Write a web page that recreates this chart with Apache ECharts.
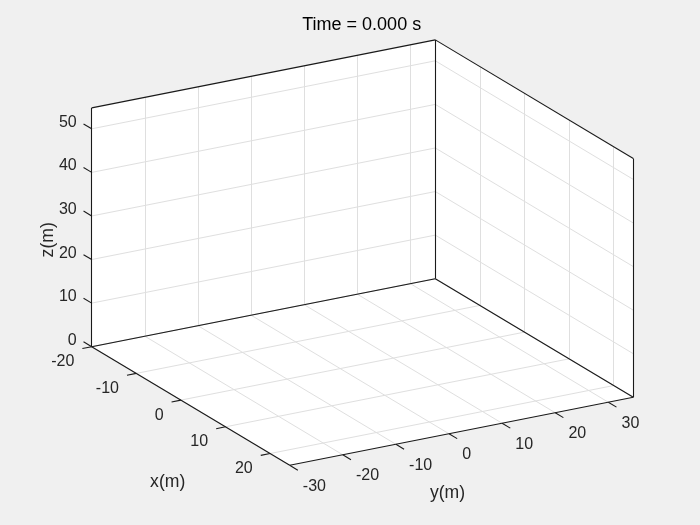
<!DOCTYPE html>
<html><head><meta charset="utf-8">
<script src="https://cdn.jsdelivr.net/npm/echarts@6/dist/echarts.min.js"></script>
<style>html,body{margin:0;padding:0;background:#f0f0f0}#c{width:700px;height:525px}</style>
</head><body><div id="c"></div>
<script>
// ---- data ----
const xTicks = [-20, -10, 0, 10, 20];
const yTicks = [-30, -20, -10, 0, 10, 20, 30];
const zTicks = [0, 10, 20, 30, 40, 50];
const xLim = [-20, 24.4];
const yLim = [-30, 34.7];
const zLim = [0, 54.8];
const axisNames = ['x(m)', 'y(m)', 'z(m)'];
const titleText = 'Time = 0.000 s';

// ---- view (orthographic projection of the axis box onto the page) ----
const VIEW = { o: [91.7, 346.7], ex: [198, 118.6], ey: [343.6, -68], ez: [0, -238.8] };
function proj(x, y, z) {
  const fx = (x - xLim[0]) / (xLim[1] - xLim[0]);
  const fy = (y - yLim[0]) / (yLim[1] - yLim[0]);
  const fz = (z - zLim[0]) / (zLim[1] - zLim[0]);
  return [VIEW.o[0] + fx * VIEW.ex[0] + fy * VIEW.ey[0] + fz * VIEW.ez[0],
          VIEW.o[1] + fx * VIEW.ex[1] + fy * VIEW.ey[1] + fz * VIEW.ez[1]];
}
function unit(v) { const n = Math.hypot(v[0], v[1]); return [v[0] / n, v[1] / n]; }
const x0 = xLim[0], x1 = xLim[1], y0 = yLim[0], y1 = yLim[1], z0 = zLim[0], z1 = zLim[1];

// grid lines on the back planes
const gridSegs = [];
xTicks.forEach(x => { gridSegs.push([proj(x, y0, z0), proj(x, y1, z0)]); gridSegs.push([proj(x, y1, z0), proj(x, y1, z1)]); });
yTicks.forEach(y => { gridSegs.push([proj(x0, y, z0), proj(x1, y, z0)]); gridSegs.push([proj(x0, y, z0), proj(x0, y, z1)]); });
zTicks.forEach(z => { gridSegs.push([proj(x0, y0, z), proj(x0, y1, z)]); gridSegs.push([proj(x0, y1, z), proj(x1, y1, z)]); });

// box edges
const boxSegs = [
  [proj(x0, y0, z0), proj(x1, y0, z0)], [proj(x1, y0, z0), proj(x1, y1, z0)],
  [proj(x0, y0, z0), proj(x0, y1, z0)], [proj(x0, y1, z0), proj(x1, y1, z0)],
  [proj(x0, y0, z0), proj(x0, y0, z1)], [proj(x0, y1, z0), proj(x0, y1, z1)], [proj(x1, y1, z0), proj(x1, y1, z1)],
  [proj(x0, y0, z1), proj(x0, y1, z1)], [proj(x0, y1, z1), proj(x1, y1, z1)]
];
const hull = [proj(x0, y0, z0), proj(x1, y0, z0), proj(x1, y1, z0), proj(x1, y1, z1), proj(x0, y1, z1), proj(x0, y0, z1)];

// ticks and tick labels
const TL = 9.5;
const dX = unit(VIEW.ey).map(v => -v), dY = unit(VIEW.ex), dZ = unit(VIEW.ex).map(v => -v);
const tickSegs = [];
const labels = [];
const FONT = '16px "Liberation Sans", Arial, sans-serif';
const LFONT = '17.6px "Liberation Sans", Arial, sans-serif';
xTicks.forEach(x => {
  const p = proj(x, y0, z0), e = [p[0] + TL * dX[0], p[1] + TL * dX[1]];
  tickSegs.push([p, e]);
  labels.push({ pos: [e[0] - 8, e[1] + 13.3], text: String(x), align: 'right', rot: 0, font: FONT });
});
yTicks.forEach(y => {
  const p = proj(x1, y, z0), e = [p[0] + TL * dY[0], p[1] + TL * dY[1]];
  tickSegs.push([p, e]);
  labels.push({ pos: [e[0] + 5, e[1] + 16], text: String(y), align: 'left', rot: 0, font: FONT });
});
zTicks.forEach(z => {
  const p = proj(x0, y0, z), e = [p[0] + TL * dZ[0], p[1] + TL * dZ[1]];
  tickSegs.push([p, e]);
  labels.push({ pos: [e[0] - 6.8, e[1] - 1.5], text: String(z), align: 'right', rot: 0, font: FONT });
});
const mx = proj((x0 + x1) / 2, y0, z0), my = proj(x1, (y0 + y1) / 2, z0), mz = proj(x0, y0, (z0 + z1) / 2);
labels.push({ pos: [mx[0] - 23, mx[1] + 76], text: axisNames[0], align: 'center', rot: 0, font: LFONT });
labels.push({ pos: [my[0] - 14, my[1] + 62], text: axisNames[1], align: 'center', rot: 0, font: LFONT });
labels.push({ pos: [mz[0] - 44, mz[1] + 12.5], text: axisNames[2], align: 'center', rot: Math.PI / 2, font: LFONT });
labels.push({ pos: [361.7, 25], text: titleText, align: 'center', rot: 0, font: '18px "Liberation Sans", Arial, sans-serif', color: '#000' });

const toLines = segs => segs.map(s => ({ coords: s }));

const chart = echarts.init(document.getElementById('c'), null, { renderer: 'canvas' });
chart.setOption({
  backgroundColor: '#f0f0f0',
  animation: false,
  grid: { left: 0, right: 0, top: 0, bottom: 0, containLabel: false },
  xAxis: { type: 'value', min: 0, max: 700, show: false },
  yAxis: { type: 'value', min: 0, max: 525, inverse: true, show: false },
  series: [
    {
      type: 'custom', silent: true,
      data: [[0, 0]],
      renderItem: (params, api) => ({
        type: 'polygon',
        shape: { points: hull.map(p => api.coord(p)) },
        style: { fill: '#ffffff', stroke: null }
      })
    },
    { type: 'lines', coordinateSystem: 'cartesian2d', silent: true, data: toLines(gridSegs),
      lineStyle: { color: '#dfdfdf', width: 1, opacity: 1, curveness: 0 } },
    { type: 'lines', coordinateSystem: 'cartesian2d', silent: true, data: toLines(boxSegs),
      lineStyle: { color: '#1a1a1a', width: 1.1, opacity: 1, curveness: 0 } },
    { type: 'lines', coordinateSystem: 'cartesian2d', silent: true, data: toLines(tickSegs),
      lineStyle: { color: '#1a1a1a', width: 1.1, opacity: 1, curveness: 0 } },
    {
      type: 'custom', silent: true,
      data: labels.map(l => l.pos),
      renderItem: (params, api) => {
        const l = labels[params.dataIndex];
        const c = api.coord([api.value(0), api.value(1)]);
        return {
          type: 'text', x: c[0], y: c[1], rotation: l.rot,
          style: { text: l.text, textAlign: l.align, textVerticalAlign: 'middle', align: l.align, verticalAlign: 'middle',
                   font: l.font, fill: l.color || '#262626' }
        };
      }
    }
  ]
});
</script></body></html>
